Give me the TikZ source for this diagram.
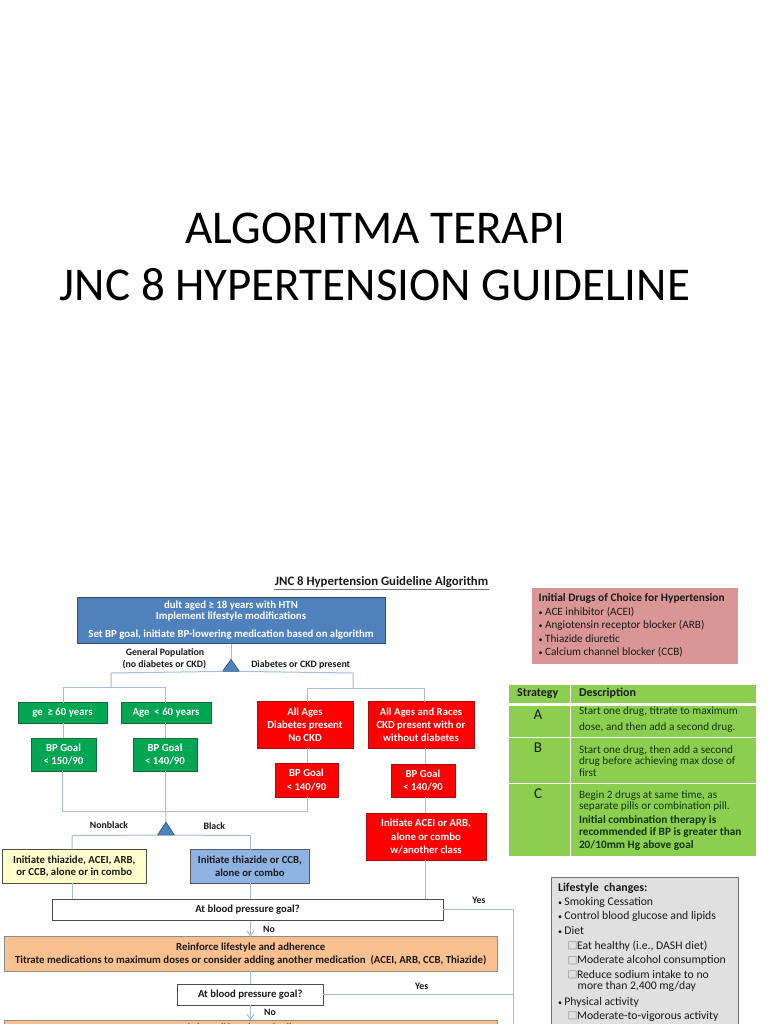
\documentclass[tikz,border=0pt]{standalone}
\usepackage{fontspec}
\setmainfont{Carlito}
\newfontfamily\symfont{DejaVu Sans}
\usetikzlibrary{shapes.geometric,arrows.meta}
\definecolor{lnk}{HTML}{A9BCD3}
\definecolor{bluefill}{HTML}{4F81BD}
\definecolor{blueedge}{HTML}{2F5078}
\definecolor{grn}{HTML}{00A651}
\definecolor{grnedge}{HTML}{0E6B3A}
\definecolor{redfill}{HTML}{FF0000}
\definecolor{rededge}{HTML}{A80F12}
\definecolor{yel}{HTML}{FFFFCC}
\definecolor{sky}{HTML}{8DB3E2}
\definecolor{org}{HTML}{FAC090}
\definecolor{pink}{HTML}{D99694}
\definecolor{tabgrn}{HTML}{8CCF50}
\definecolor{gry}{HTML}{E0E0E0}
\definecolor{txtdark}{HTML}{1A1A1A}
\definecolor{tabtxt}{HTML}{12350A}
\newcommand{\fsz}[2]{\fontsize{#1}{#2}\selectfont}
% \bx{name}{style}{x1}{y1}{x2}{y2}{text}
\newcommand{\bx}[7]{%
  \pgfmathsetmacro{\bxw}{#5-#3}\pgfmathsetmacro{\bxh}{#6-#4}%
  \pgfmathsetmacro{\bxx}{(#3+#5)/2}\pgfmathsetmacro{\bxy}{(#4+#6)/2}%
  \node[#2,minimum width=\bxw pt,minimum height=\bxh pt] (#1) at (\bxx,\bxy) {#7};}
\newcommand{\boxsq}{{\symfont\fontsize{10.5}{12}\selectfont\textcolor{black!45}{□}}}
\newcommand{\blt}{\makebox[6.4pt][l]{\fontsize{8}{9}\selectfont •}}
\tikzset{
  x=1pt,y=-1pt,
  basebox/.style={rectangle,inner sep=0pt,outer sep=0pt,align=center,line width=1pt,font=\fsz{10}{13}\bfseries},
  bluebox/.style={basebox,fill=bluefill,draw=blueedge,text=white,font=\fsz{10.8}{9}\bfseries},
  greenbox/.style={basebox,fill=grn,draw=grnedge,text=white,font=\fsz{10.8}{13}\bfseries},
  redbox/.style={basebox,fill=redfill,draw=rededge,text=white,font=\fsz{10.7}{13.2}\bfseries},
  yellowbox/.style={basebox,fill=yel,draw=black!70,text=txtdark,font=\fsz{10.8}{12.4}\bfseries},
  skybox/.style={basebox,fill=sky,draw=black!65,text=txtdark,font=\fsz{10.7}{12.4}\bfseries},
  whitebox/.style={basebox,fill=white,draw=black!70,text=txtdark,font=\fsz{10.7}{12.5}\bfseries},
  orangebox/.style={basebox,fill=org,draw=black!45,text=txtdark,font=\fsz{10.8}{13.2}\bfseries},
  tabcell/.style={rectangle,inner sep=0pt,outer sep=0pt,fill=tabgrn},
  lbl/.style={inner sep=0pt,outer sep=0pt,text=txtdark,font=\fsz{9.8}{12}\bfseries,align=center},
  tabl/.style={inner sep=0pt,outer sep=0pt,anchor=west,yshift=-1pt,text=tabtxt,font=\fsz{11.2}{12}},
  tabb/.style={tabl,font=\fsz{11.3}{12}\bfseries},
  tabh/.style={inner sep=0pt,outer sep=0pt,text=txtdark,font=\fsz{12}{13}\bfseries},
  tabk/.style={inner sep=0pt,outer sep=0pt,text=txtdark,font=\fsz{15}{16}},
  pinkl/.style={inner sep=0pt,outer sep=0pt,anchor=west,yshift=-1pt,text=txtdark,font=\fsz{11.2}{13}},
  lifel/.style={inner sep=0pt,outer sep=0pt,anchor=west,yshift=-1pt,text=txtdark,font=\fsz{11.7}{13}},
  tri/.style={isosceles triangle,isosceles triangle stretches,shape border rotate=90,inner sep=0pt,outer sep=0pt,minimum width=17pt,minimum height=12pt,fill=bluefill,draw=blueedge,line width=.6pt},
  link/.style={draw=lnk,line width=1pt},
  linkarrow/.style={link,-{Straight Barb[length=5pt,width=7pt]}},
}
\begin{document}
\begin{tikzpicture}
\useasboundingbox (0,0) rectangle (768,1024);
\clip (0,0) rectangle (768,1024);
\fill[white] (0,0) rectangle (768,1024);

\node[inner sep=0pt,font=\fsz{47}{56},text=black] (t1) at (375.5,228) {ALGORITMA TERAPI};
\node[inner sep=0pt,font=\fsz{47}{56},text=black] (t2) at (375,285) {JNC 8 HYPERTENSION GUIDELINE};

\node[inner sep=0pt,font=\fsz{12.8}{15}\bfseries,text=txtdark] (head) at (381.5,582) {JNC 8 Hypertension Guideline Algorithm};
\coordinate (ulA) at (274,589.5);\coordinate (ulB) at (489,589.5);
\draw[draw=black!55,line width=.7pt] (ulA) -- (ulB);

% routing coordinates
\coordinate (jA) at (111,673);\coordinate (jB) at (353,673);
\coordinate (jC) at (63,687.5);\coordinate (jD) at (165.7,687.5);
\coordinate (jE) at (307,688);\coordinate (jF) at (424.5,688);
\coordinate (jG) at (62.5,811.5);\coordinate (jH) at (165.7,811.5);\coordinate (jI) at (307,811.5);
\coordinate (jJ) at (72,835.5);\coordinate (jK) at (250.5,835.5);
\coordinate (jR) at (425,850);
\coordinate (jN) at (513,1030);

% flow boxes
\bx{start}{bluebox}{77}{597}{385}{643.5}{dult aged ≥ 18 years with HTN\\Implement lifestyle modifications\\[8pt]Set BP goal, initiate BP-lowering medication based on algorithm}
\node[tri] (tri1) at (231,667) {};
\bx{g1}{greenbox}{18}{702.5}{107}{723}{ge\ \ ≥ 60 years}
\bx{g2}{greenbox}{121}{702.5}{211}{723}{Age\ \ < 60 years}
\bx{g3}{greenbox}{31}{738}{96}{771}{BP Goal\\< 150/90}
\bx{g4}{greenbox}{133}{738}{197}{771}{BP Goal\\< 140/90}
\bx{r1}{redbox}{257}{701.5}{353}{748}{All Ages\\Diabetes present\\No CKD}
\bx{r2}{redbox}{368}{701.5}{474}{748}{All Ages and Races\\CKD present with or\\without diabetes}
\bx{r3}{redbox}{275}{763}{338}{797}{BP Goal\\< 140/90}
\bx{r4}{redbox}{391}{764}{455}{797}{BP Goal\\< 140/90}
\bx{r5}{redbox}{366}{813}{486}{860}{Initiate ACEI or ARB,\\alone or combo\\w/another class}
\node[tri,minimum height=13pt] (tri2) at (166,830.5) {};
\bx{yellow}{yellowbox}{2}{849.5}{146.4}{883}{Initiate thiazide, ACEI, ARB,\\or CCB, alone or in combo}
\bx{skyb}{skybox}{190}{849.5}{309.7}{883}{Initiate thiazide or CCB,\\alone or combo}
\bx{w1}{whitebox}{52}{899}{443}{920.5}{At blood pressure goal?}
\bx{o1}{orangebox}{4.4}{936.7}{497}{971}{Reinforce lifestyle and adherence\\Titrate medications to maximum doses or consider adding another medication\ \ (ACEI, ARB, CCB, Thiazide)}
\bx{w2}{whitebox}{177.5}{984.4}{323}{1005}{At blood pressure goal?}
\bx{o2}{orangebox}{4.4}{1020}{497}{1038}{Reinforce lifestyle and adherence}

% connectors
\draw[link] (start.south -| tri1.apex) -- (tri1.apex);
\draw[link] (tri1.left corner) -- (jA) -- (jA |- jC);
\draw[link] (tri1.right corner) -- (jB) -- (jB |- jE);
\draw[link] (jC) -- (jD);
\draw[link] (jE) -- (jF);
\draw[link] (jC) -- (g1.north -| jC);
\draw[link] (jD) -- (g2.north -| jD);
\draw[link] (jE) -- (r1.north -| jE);
\draw[link] (jF) -- (r2.north -| jF);
\draw[link] (g1.south -| jC) -- (g3.north -| jC);
\draw[link] (g2.south -| jD) -- (g4.north -| jD);
\draw[link] (r1.south -| jE) -- (r3.north -| jE);
\draw[link] (r2.south -| jR) -- (r4.north -| jR);
\draw[link] (r4.south -| jR) -- (r5.north -| jR);
\draw[link] (r5.south -| jR) -- (w1.north -| jR);
\draw[link] (g3.south -| jG) -- (jG) -- (jI) -- (r3.south -| jI);
\draw[link] (g4.south -| jH) -- (jH) -- (tri2.apex);
\draw[link] (tri2.left corner) -- (jJ) -- (yellow.north -| jJ);
\draw[link] (tri2.right corner) -- (jK) -- (skyb.north -| jK);
\draw[link] (yellow.south -| jJ) -- (w1.north -| jJ);
\draw[link] (skyb.south -| jK) -- (w1.north -| jK);
\draw[linkarrow] (w1.south -| jK) -- (o1.north -| jK);
\draw[link] (o1.south -| jK) -- (w2.north -| jK);
\draw[linkarrow] (w2.south -| jK) -- (o2.north -| jK);
\draw[link] (w1.east) -- (w1.east -| jN) -- (jN);
\draw[link] (w2.east) -- (w2.east -| jN);

% connector labels
\node[lbl] (lGen) at (165,653) {General Population};
\node[lbl] (lNo) at (164.3,665) {(no diabetes or CKD)};
\node[lbl] (lDia) at (300.7,665) {Diabetes or CKD present};
\node[lbl] (lNonb) at (109,825.5) {Nonblack};
\node[lbl] (lBlack) at (214.3,826.5) {Black};
\node[lbl] (lY1) at (479,900) {Yes};
\node[lbl] (lN1) at (269,929) {No};
\node[lbl] (lY2) at (421.6,986) {Yes};
\node[lbl] (lN2) at (270,1012.5) {No};

% initial drugs box
\bx{pinkb}{fill=pink,inner sep=0pt,outer sep=0pt}{532}{588}{737.6}{663.7}{}
\node[pinkl,font=\fsz{11.4}{13}\bfseries] (p0) at (538.7,597.7) {Initial Drugs of Choice for Hypertension};
\node[pinkl] (p1) at (538.7,611) {\blt ACE inhibitor (ACEI)};
\node[pinkl] (p2) at (538.7,624.3) {\blt Angiotensin receptor blocker (ARB)};
\node[pinkl] (p3) at (538.7,638) {\blt Thiazide diuretic};
\node[pinkl] (p4) at (538.7,651.3) {\blt Calcium channel blocker (CCB)};

% strategy table
\bx{c00}{tabcell}{508.7}{685}{569.8}{703}{}
\bx{c01}{tabcell}{570.8}{685}{756}{703}{}
\bx{c10}{tabcell}{508.7}{705.7}{569.8}{736.7}{}
\bx{c11}{tabcell}{570.8}{705.7}{756}{736.7}{}
\bx{c20}{tabcell}{508.7}{737.7}{569.8}{782.7}{}
\bx{c21}{tabcell}{570.8}{737.7}{756}{782.7}{}
\bx{c30}{tabcell}{508.7}{783.7}{569.8}{856}{}
\bx{c31}{tabcell}{570.8}{783.7}{756}{856}{}
\node[tabh] (hS) at (537.7,693.7) {Strategy};
\node[tabh,anchor=west] (hD) at (579,693.7) {Description};
\node[tabk] (kA) at (538,715) {A};
\node[tabk] (kB) at (538,748) {B};
\node[tabk] (kC) at (538,794) {C};
\node[tabl] (a1) at (579,711) {Start one drug, titrate to maximum};
\node[tabl] (a2) at (579,726.3) {dose, and then add a second drug.};
\node[tabl] (b1) at (579,749.7) {Start one drug, then add a second};
\node[tabl] (b2) at (579,761) {drug before achieving max dose of};
\node[tabl] (b3) at (579,771.7) {first};
\node[tabl] (d1) at (579,795) {Begin 2 drugs at same time, as};
\node[tabl] (d2) at (579,805.3) {separate pills or combination pill.};
\node[tabb] (d3) at (579,819.3) {Initial combination therapy is};
\node[tabb] (d4) at (579,831.7) {recommended if BP is greater than};
\node[tabb] (d5) at (579,844.3) {20/10mm Hg above goal};

% lifestyle box
\bx{lifeb}{fill=gry,draw=black!55,line width=.8pt,inner sep=0pt,outer sep=0pt}{551}{877.7}{738}{1045}{}
\node[lifel,font=\fsz{11.9}{13}\bfseries] (l0) at (558,887.3) {Lifestyle\ \ changes:};
\node[lifel] (l1) at (558,901.7) {\blt Smoking Cessation};
\node[lifel] (l2) at (558,915.7) {\blt Control blood glucose and lipids};
\node[lifel] (l3) at (558,930) {\blt Diet};
\node[lifel] (s1) at (567.5,944.7) {\boxsq};
\node[lifel] (l4) at (577,944.7) {Eat healthy (i.e., DASH diet)};
\node[lifel] (s2) at (567.5,959.3) {\boxsq};
\node[lifel] (l5) at (577,959.3) {Moderate alcohol consumption};
\node[lifel] (s3) at (567.5,973.7) {\boxsq};
\node[lifel] (l6) at (577,973.7) {Reduce sodium intake to no};
\node[lifel] (l7) at (577.7,985.7) {more than 2,400 mg/day};
\node[lifel] (l8) at (558,1001.7) {\blt Physical activity};
\node[lifel] (s4) at (567.5,1015) {\boxsq};
\node[lifel] (l9) at (577,1015) {Moderate-to-vigorous activity};
\node[lifel] (l10) at (577.7,1028) {3-4 days a week averaging 40};
\end{tikzpicture}
\end{document}
